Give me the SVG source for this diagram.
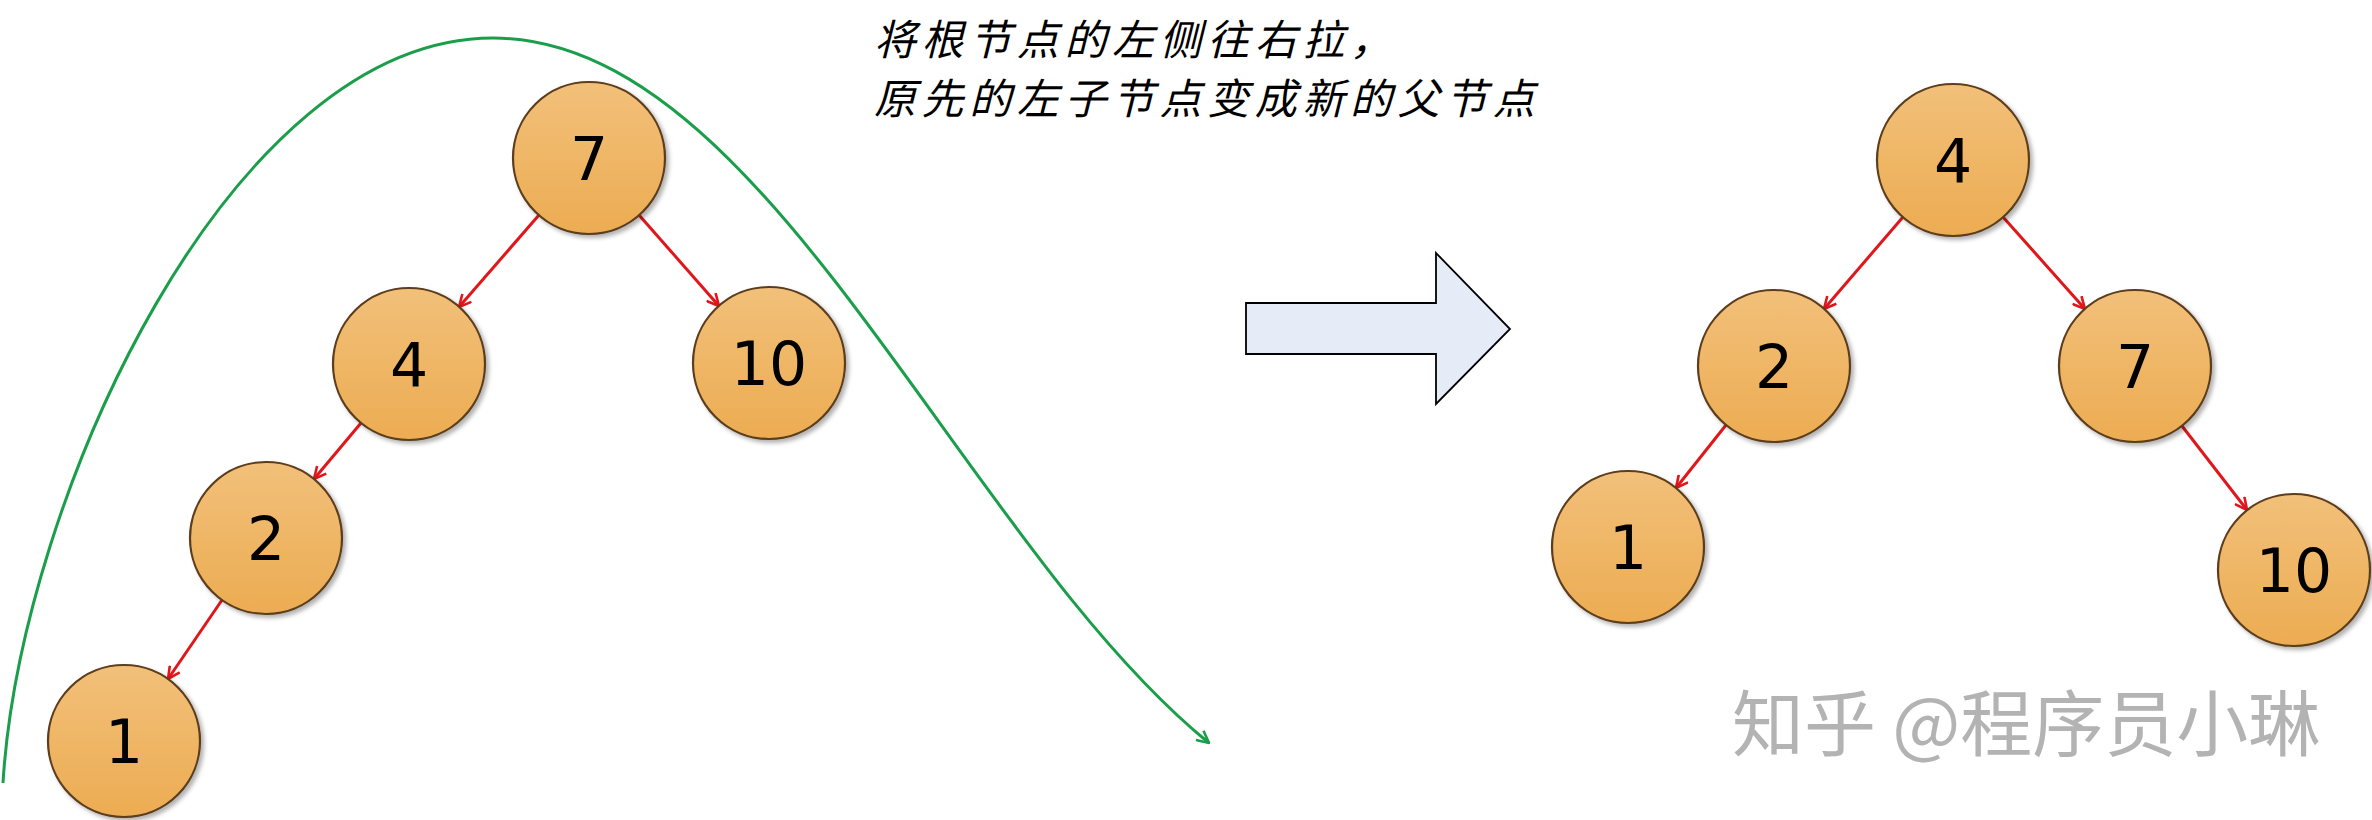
<svg xmlns="http://www.w3.org/2000/svg" width="2372" height="820" viewBox="0 0 2372 820">
<style>
.node circle{fill:url(#og);stroke:#5b3c1c;stroke-width:2.2;filter:url(#sh)}
.node text{font-family:"DejaVu Sans","Liberation Sans",sans-serif;font-size:60px;text-anchor:middle;fill:#000}
.edge{stroke:#e0161b;stroke-width:3;fill:none;marker-end:url(#ra)}
.note{font-family:"Noto Sans CJK SC",sans-serif;font-size:42px;letter-spacing:5.6px;font-style:italic;fill:#000}
.wm{font-family:"Noto Sans CJK SC",sans-serif;font-size:72px;fill:#b3b3b3}
</style>
<defs>
<linearGradient id="og" x1="0" y1="0" x2="0" y2="1">
<stop offset="0" stop-color="#f2c07a"/>
<stop offset="1" stop-color="#ecac52"/>
</linearGradient>
<filter id="sh" x="-20%" y="-20%" width="140%" height="140%">
<feDropShadow dx="3" dy="3" stdDeviation="2" flood-color="#000" flood-opacity="0.3"/>
</filter>
<marker id="ra" viewBox="0 0 14 14" refX="13" refY="7" markerWidth="14" markerHeight="14" markerUnits="userSpaceOnUse" orient="auto">
<path d="M1,1 L13,7 L1,13" fill="none" stroke="#e0161b" stroke-width="2.6"/>
</marker>
<marker id="ga" viewBox="0 0 14 14" refX="13" refY="7" markerWidth="14" markerHeight="14" markerUnits="userSpaceOnUse" orient="auto">
<path d="M1,1 L13,7 L1,13" fill="none" stroke="#1a9e4a" stroke-width="2.6"/>
</marker>
</defs>
<rect width="2372" height="820" fill="#fff"/>
<g id="note">
<text class="note" x="874" y="55">将根节点的左侧往右拉，</text>
<text class="note" x="874" y="114">原先的左子节点变成新的父节点</text>
</g>
<g id="rotate-curve">
<path d="M3,783 C20,500 230,38 493,38 C767,38 960,540 1209,743" fill="none" stroke="#1a9e4a" stroke-width="3" marker-end="url(#ga)"/>
</g>
<g id="big-arrow">
<path d="M1246,303 L1436,303 L1436,253 L1510,329 L1436,404 L1436,354 L1246,354 Z" fill="#e6ecf7" stroke="#000" stroke-width="1.8"/>
</g>
<g id="connectors">
<line class="edge" x1="539" y1="215" x2="459" y2="307"/>
<line class="edge" x1="639" y1="215" x2="719" y2="306"/>
<line class="edge" x1="361" y1="423" x2="314" y2="479"/>
<line class="edge" x1="222" y1="600" x2="168" y2="679"/>
<line class="edge" x1="1903" y1="217" x2="1824" y2="309"/>
<line class="edge" x1="2003" y1="217" x2="2085" y2="309"/>
<line class="edge" x1="1726" y1="425" x2="1676" y2="488"/>
<line class="edge" x1="2182" y1="426" x2="2247" y2="510"/>
</g>
<g id="L7" class="node"><circle cx="589" cy="158" r="76"/><text x="589" y="180">7</text></g>
<g id="L4" class="node"><circle cx="409" cy="364" r="76"/><text x="409" y="386">4</text></g>
<g id="L10" class="node"><circle cx="769" cy="363" r="76"/><text x="769" y="385">10</text></g>
<g id="L2" class="node"><circle cx="266" cy="538" r="76"/><text x="266" y="560">2</text></g>
<g id="L1" class="node"><circle cx="124" cy="741" r="76"/><text x="124" y="763">1</text></g>
<g id="R4" class="node"><circle cx="1953" cy="160" r="76"/><text x="1953" y="182">4</text></g>
<g id="R2" class="node"><circle cx="1774" cy="366" r="76"/><text x="1774" y="388">2</text></g>
<g id="R7" class="node"><circle cx="2135" cy="366" r="76"/><text x="2135" y="388">7</text></g>
<g id="R1" class="node"><circle cx="1628" cy="547" r="76"/><text x="1628" y="569">1</text></g>
<g id="R10" class="node"><circle cx="2294" cy="570" r="76"/><text x="2294" y="592">10</text></g>
<g id="watermark">
<text class="wm" x="1732" y="750">知乎 @程序员小琳</text>
</g>
</svg>
